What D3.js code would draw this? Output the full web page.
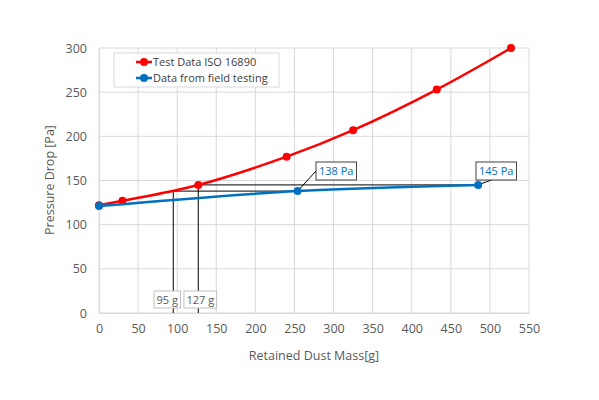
<!DOCTYPE html>
<html>
<head>
<meta charset="utf-8">
<script src="https://cdn.jsdelivr.net/npm/d3@7"></script>
<style>
body { margin: 0; background: white; }
text { font-family: "Open Sans", "Noto Sans", sans-serif; }
</style>
</head>
<body>
<div id="chart"></div>
<script>
// data
var testMass = [0, 30, 127, 240, 325, 432, 527];
var testDrop = [122, 127, 145, 177, 207, 253, 300];
var fieldMass = [0, 254, 485];
var fieldDrop = [121, 138, 145];
var xTicks = [0, 50, 100, 150, 200, 250, 300, 350, 400, 450, 500, 550];
var yTicks = [0, 50, 100, 150, 200, 250, 300];
// drop lines: mass read at a given pressure
var guideMass = [95, 127];
var guideDrop = [138, 145];
var guideEnd = [254, 485];
var massLabels = ["95 g", "127 g"];
var paLabels = ["138 Pa", "145 Pa"];

var W = 599, H = 400;
var svg = d3.select("#chart").append("svg")
    .attr("width", W)
    .attr("height", H);

var x = d3.scaleLinear().domain([0, 550]).range([99, 529]);
var y = d3.scaleLinear().domain([0, 300]).range([313, 48]);

// grid
svg.selectAll(".gx").data(xTicks).enter().append("line")
    .attr("x1", d => x(d)).attr("x2", d => x(d))
    .attr("y1", y(0)).attr("y2", y(300))
    .style("stroke", "#d9d9d9").style("stroke-width", 1);
svg.selectAll(".gy").data(yTicks).enter().append("line")
    .attr("x1", x(0)).attr("x2", x(550))
    .attr("y1", d => y(d)).attr("y2", d => y(d))
    .style("stroke", "#d9d9d9").style("stroke-width", 1);

// axes
var xAxis = svg.append("g").attr("transform", "translate(0," + y(0) + ")")
    .call(d3.axisBottom(x).tickValues(xTicks).tickSize(0).tickPadding(11));
var yAxis = svg.append("g").attr("transform", "translate(" + x(0) + ",0)")
    .call(d3.axisLeft(y).tickValues(yTicks).tickSize(0).tickPadding(12));
[xAxis, yAxis].forEach(function(a) {
  a.select(".domain").style("stroke", "#d9d9d9");
  a.selectAll("text").style("fill", "#595959").style("font-size", "12.5px")
      .style("font-family", "'Open Sans', sans-serif");
});

svg.append("text")
    .attr("x", 314).attr("y", 360)
    .attr("text-anchor", "middle")
    .style("fill", "#595959").style("font-size", "12.5px")
    .text("Retained Dust Mass[g]");
svg.append("text")
    .attr("transform", "translate(54,180) rotate(-90)")
    .attr("text-anchor", "middle")
    .style("fill", "#595959").style("font-size", "12.5px")
    .text("Pressure Drop [Pa]");

// guide lines
guideMass.forEach(function(m, i) {
  svg.append("line")
      .attr("x1", x(m)).attr("x2", x(m))
      .attr("y1", y(guideDrop[i])).attr("y2", y(0))
      .style("stroke", "black").style("stroke-width", 1);
  svg.append("line")
      .attr("x1", x(m)).attr("x2", x(guideEnd[i]))
      .attr("y1", y(guideDrop[i])).attr("y2", y(guideDrop[i]))
      .style("stroke", "black").style("stroke-width", 1);
});

// leader lines from the field points to their labels
var paPos = [[316, 171], [476, 171]];
var leadEnd = [[316, 171], [494, 179]];
paLabels.forEach(function(t, i) {
  svg.append("line")
      .attr("x1", x(fieldMass[i + 1])).attr("y1", y(fieldDrop[i + 1]))
      .attr("x2", leadEnd[i][0]).attr("y2", leadEnd[i][1])
      .style("stroke", "black").style("stroke-width", 1);
});

// series
var line = d3.line().x(d => x(d[0])).y(d => y(d[1])).curve(d3.curveCatmullRom.alpha(0.5));
var series = [
  {mass: testMass, drop: testDrop, color: "#ff0000"},
  {mass: fieldMass, drop: fieldDrop, color: "#0070c0"}
];
series.forEach(function(s) {
  var pts = s.mass.map((m, i) => [m, s.drop[i]]);
  svg.append("path").datum(pts)
      .attr("d", line)
      .style("fill", "none")
      .style("stroke", s.color)
      .style("stroke-width", 2.5);
  svg.selectAll(null).data(pts).enter().append("circle")
      .attr("cx", d => x(d[0])).attr("cy", d => y(d[1]))
      .attr("r", 4)
      .style("fill", s.color);
});

// mass labels, sitting over the drop lines near the axis
var massShift = [-6, 2];
massLabels.forEach(function(t, i) {
  var g = svg.append("g");
  var txt = g.append("text")
      .attr("x", x(guideMass[i]) + massShift[i]).attr("y", 304)
      .attr("text-anchor", "middle")
      .style("fill", "#595959").style("font-size", "11px")
      .text(t);
  var b = txt.node().getBBox();
  g.insert("rect", "text")
      .attr("x", b.x - 2.5).attr("y", 291)
      .attr("width", b.width + 5).attr("height", 17)
      .style("fill", "white").style("stroke", "#bfbfbf").style("stroke-width", 1);
});

// pressure labels
paLabels.forEach(function(t, i) {
  var g = svg.append("g");
  var txt = g.append("text")
      .attr("x", paPos[i][0] + 3).attr("y", paPos[i][1] + 4)
      .style("fill", "#0070c0").style("font-size", "11px")
      .text(t);
  var b = txt.node().getBBox();
  g.insert("rect", "text")
      .attr("x", b.x - 3).attr("y", 162)
      .attr("width", b.width + 6).attr("height", 18)
      .style("fill", "white").style("stroke", "#404040").style("stroke-width", 1);
});

// legend
svg.append("rect")
    .attr("x", 114).attr("y", 53).attr("width", 165).attr("height", 34)
    .style("fill", "white").style("stroke", "#d9d9d9");
var legendNames = ["Test Data ISO 16890", "Data from field testing"];
legendNames.forEach(function(n, i) {
  var ly = 62 + i * 16;
  svg.append("line")
      .attr("x1", 136).attr("x2", 152).attr("y1", ly).attr("y2", ly)
      .style("stroke", series[i].color).style("stroke-width", 2.5);
  svg.append("circle").attr("cx", 144).attr("cy", ly).attr("r", 4)
      .style("fill", series[i].color);
  svg.append("text").attr("x", 153).attr("y", ly + 4)
      .style("fill", "#404040").style("font-size", "11px")
      .text(n);
});
</script>
</body>
</html>
